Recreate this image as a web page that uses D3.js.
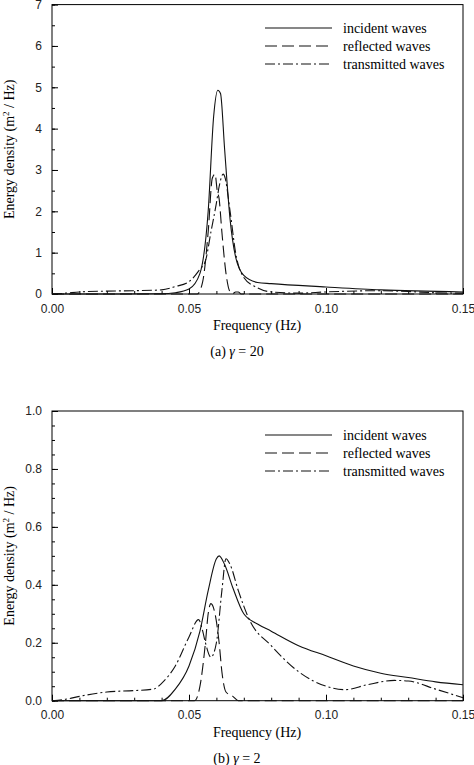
<!DOCTYPE html><html><head><meta charset="utf-8">
<script src="https://cdn.jsdelivr.net/npm/d3@7"></script>
<style>body{margin:0;background:#fff}</style></head><body>
<script>
const xTicks=[0,0.05,0.10,0.15];
const aYTicks=[0,1,2,3,4,5,6,7];
const bYTicks=[0,0.2,0.4,0.6,0.8,1.0];
const legendLabels=["incident waves","reflected waves","transmitted waves"];
const aIncident=[[0,0],[0.04,0.005],[0.045,0.03],[0.05,0.12],[0.054,0.5],[0.057,2.0],[0.059,4.3],[0.0605,4.93],[0.0615,4.85],[0.063,3.5],[0.065,1.8],[0.067,0.9],[0.07,0.45],[0.075,0.28],[0.08,0.25],[0.1,0.17],[0.12,0.1],[0.15,0.05]];
const aReflected=[[0,0],[0.053,0],[0.055,0.3],[0.057,1.5],[0.0585,2.8],[0.0595,2.9],[0.0603,2.5],[0.061,2.3],[0.062,1.5],[0.0635,0.5],[0.065,0.05],[0.066,0.01],[0.067,0.05],[0.068,0.05],[0.069,0],[0.15,0]];
const aTransmitted=[[0,0],[0.005,0.02],[0.01,0.05],[0.02,0.07],[0.03,0.08],[0.04,0.1],[0.045,0.18],[0.05,0.3],[0.054,0.6],[0.056,0.8],[0.058,1.5],[0.06,2.2],[0.061,2.6],[0.0625,2.9],[0.063,2.85],[0.065,2.0],[0.067,1.0],[0.07,0.4],[0.075,0.15],[0.08,0.05],[0.09,0.02],[0.1,0.05],[0.12,0.08],[0.13,0.06],[0.14,0.03],[0.15,0.02]];
const bIncident=[[0,0],[0.04,0],[0.045,0.04],[0.05,0.12],[0.054,0.24],[0.057,0.38],[0.06,0.49],[0.061,0.5],[0.063,0.47],[0.066,0.39],[0.07,0.3],[0.075,0.265],[0.08,0.24],[0.09,0.19],[0.1,0.155],[0.11,0.12],[0.12,0.095],[0.13,0.08],[0.14,0.065],[0.15,0.055]];
const bReflected=[[0,0],[0.052,0],[0.054,0.05],[0.056,0.2],[0.057,0.3],[0.058,0.335],[0.0595,0.3],[0.061,0.2],[0.062,0.1],[0.0635,0.03],[0.066,0.015],[0.068,0],[0.15,0]];
const bTransmitted=[[0,0],[0.005,0.005],[0.01,0.015],[0.02,0.03],[0.03,0.035],[0.037,0.04],[0.04,0.06],[0.045,0.12],[0.05,0.22],[0.0535,0.28],[0.055,0.24],[0.056,0.2],[0.058,0.15],[0.06,0.2],[0.062,0.38],[0.0635,0.49],[0.065,0.47],[0.068,0.38],[0.072,0.28],[0.08,0.19],[0.09,0.1],[0.1,0.05],[0.107,0.038],[0.115,0.055],[0.125,0.07],[0.13,0.068],[0.14,0.04],[0.15,0.01]];

const svg=d3.select("body").append("svg").attr("width",474).attr("height",765);
const dashes=[null,"12,5","10,3,2,3"];
function panel(top,bottom,ymax,yTicks,yMinorStep,fmt,series,caption,legendTop){
  const x=d3.scaleLinear().domain([0,0.15]).range([52,463]);
  const y=d3.scaleLinear().domain([0,ymax]).range([bottom,top]);
  const g=svg.append("g");
  g.append("rect").attr("x",52).attr("y",top).attr("width",411).attr("height",bottom-top).attr("fill","none").attr("stroke","#000").attr("stroke-width",1);
  const xa=g.append("g").attr("transform",`translate(0,${bottom})`).call(d3.axisBottom(x).tickValues(xTicks).tickFormat(d3.format(".2f")).tickSizeInner(-6).tickSizeOuter(0).tickPadding(10));
  const xm=g.append("g").attr("transform",`translate(0,${bottom})`).call(d3.axisBottom(x).tickValues(d3.range(0,0.1501,0.01)).tickFormat("").tickSizeInner(-3).tickSizeOuter(0));
  const ya=g.append("g").attr("transform",`translate(52,0)`).call(d3.axisLeft(y).tickValues(yTicks).tickFormat(fmt).tickSizeInner(-6).tickSizeOuter(0).tickPadding(10));
  const ym=g.append("g").attr("transform",`translate(52,0)`).call(d3.axisLeft(y).tickValues(d3.range(0,ymax+1e-9,yMinorStep)).tickFormat("").tickSizeInner(-3).tickSizeOuter(0));
  [xa,xm,ya,ym].forEach(a=>{a.select(".domain").remove();a.selectAll("text").attr("font-family","Liberation Sans, Arial").attr("font-size",12).attr("fill","#222");});
  const line=d3.line().x(d=>x(d[0])).y(d=>y(d[1])).curve(d3.curveMonotoneX);
  series.forEach((s,i)=>g.append("path").attr("d",line(s)).attr("fill","none").attr("stroke","#111").attr("stroke-width",1.1).attr("stroke-dasharray",dashes[i]));
  legendLabels.forEach((l,i)=>{
    const ly=legendTop+i*18;
    g.append("line").attr("x1",265).attr("x2",332).attr("y1",ly).attr("y2",ly).attr("stroke","#111").attr("stroke-width",1.1).attr("stroke-dasharray",dashes[i]);
    g.append("text").attr("x",343).attr("y",ly+5).text(l).attr("font-family","Liberation Serif, Times New Roman").attr("font-size",14);
  });
  g.append("text").attr("x",257).attr("y",bottom+36).attr("text-anchor","middle").attr("font-family","Liberation Serif").attr("font-size",14).text("Frequency (Hz)");
  const yl=g.append("text").attr("transform",`translate(14,${(top+bottom)/2}) rotate(-90)`).attr("text-anchor","middle").attr("font-family","Liberation Serif").attr("font-size",14);
  yl.append("tspan").text("Energy density (m");
  yl.append("tspan").attr("dy",-5).attr("font-size",9).text("2");
  yl.append("tspan").attr("dy",5).text(" / Hz)");
  const c=g.append("text").attr("x",237).attr("y",bottom+62).attr("text-anchor","middle").attr("font-family","Liberation Serif").attr("font-size",14);
  c.append("tspan").text(caption[0]+"  ");
  c.append("tspan").attr("font-style","italic").text("γ");
  c.append("tspan").text(" = "+caption[1]);
}
panel(4.6,294,7,aYTicks,0.5,d3.format("d"),[aIncident,aReflected,aTransmitted],["(a)","20"],28);
panel(411,700.7,1.0,bYTicks,0.05,d3.format(".1f"),[bIncident,bReflected,bTransmitted],["(b)","2"],435);
</script></body></html>
